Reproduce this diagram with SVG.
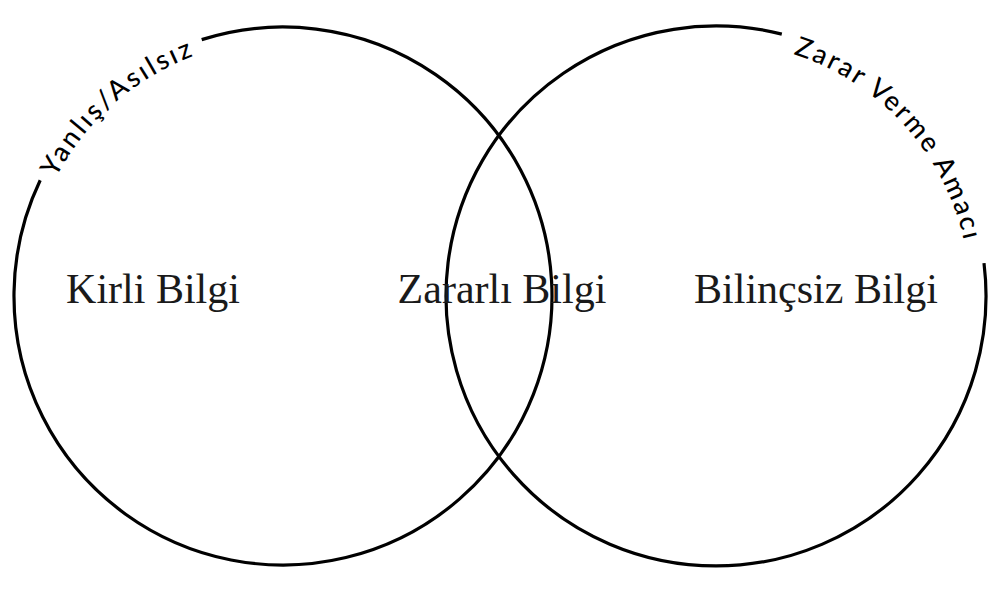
<svg xmlns="http://www.w3.org/2000/svg" xmlns:xlink="http://www.w3.org/1999/xlink" width="1007" height="598" viewBox="0 0 1007 598">
  <style>
    .ring { fill: none; stroke: #000; stroke-width: 3.2; }
    .label { font-family: "Liberation Serif", "Times New Roman", serif; font-size: 42px; fill: #1a1a1a; text-anchor: middle; }
    .arc { font-family: "Lato", "DejaVu Sans", sans-serif; font-size: 27px; font-weight: 500; fill: #000; }
  </style>
  <defs>
    <path id="arcLeft" d="M40.2,214.8 A256,256 0 0 1 232.0,45.1"/>
    <path id="arcRight" d="M749.1,44.2 A254,254 0 0 1 969.8,284.9"/>
  </defs>
  <rect width="1007" height="598" fill="#fff"/>
  <g id="connectors"></g>
  <g id="set-left">
    <path class="ring" d="M201.7,39.6 A269,269 0 1 1 40.2,180.2"/>
    <text class="arc"><textPath xlink:href="#arcLeft" href="#arcLeft" startOffset="50%" text-anchor="middle" textLength="188" lengthAdjust="spacing">Yanlış/Asılsız</textPath></text>
    <text class="label" x="153" y="303">Kirli Bilgi</text>
  </g>
  <g id="set-right">
    <path class="ring" d="M984,263.1 A270,270 0 1 1 781.8,34.1"/>
    <text class="arc"><textPath xlink:href="#arcRight" href="#arcRight" startOffset="50%" text-anchor="middle" textLength="264" lengthAdjust="spacing">Zarar Verme Amacı</textPath></text>
    <text class="label" x="816" y="303">Bilinçsiz Bilgi</text>
  </g>
  <g id="intersection">
    <text class="label" x="502" y="303">Zararlı Bilgi</text>
  </g>
</svg>
